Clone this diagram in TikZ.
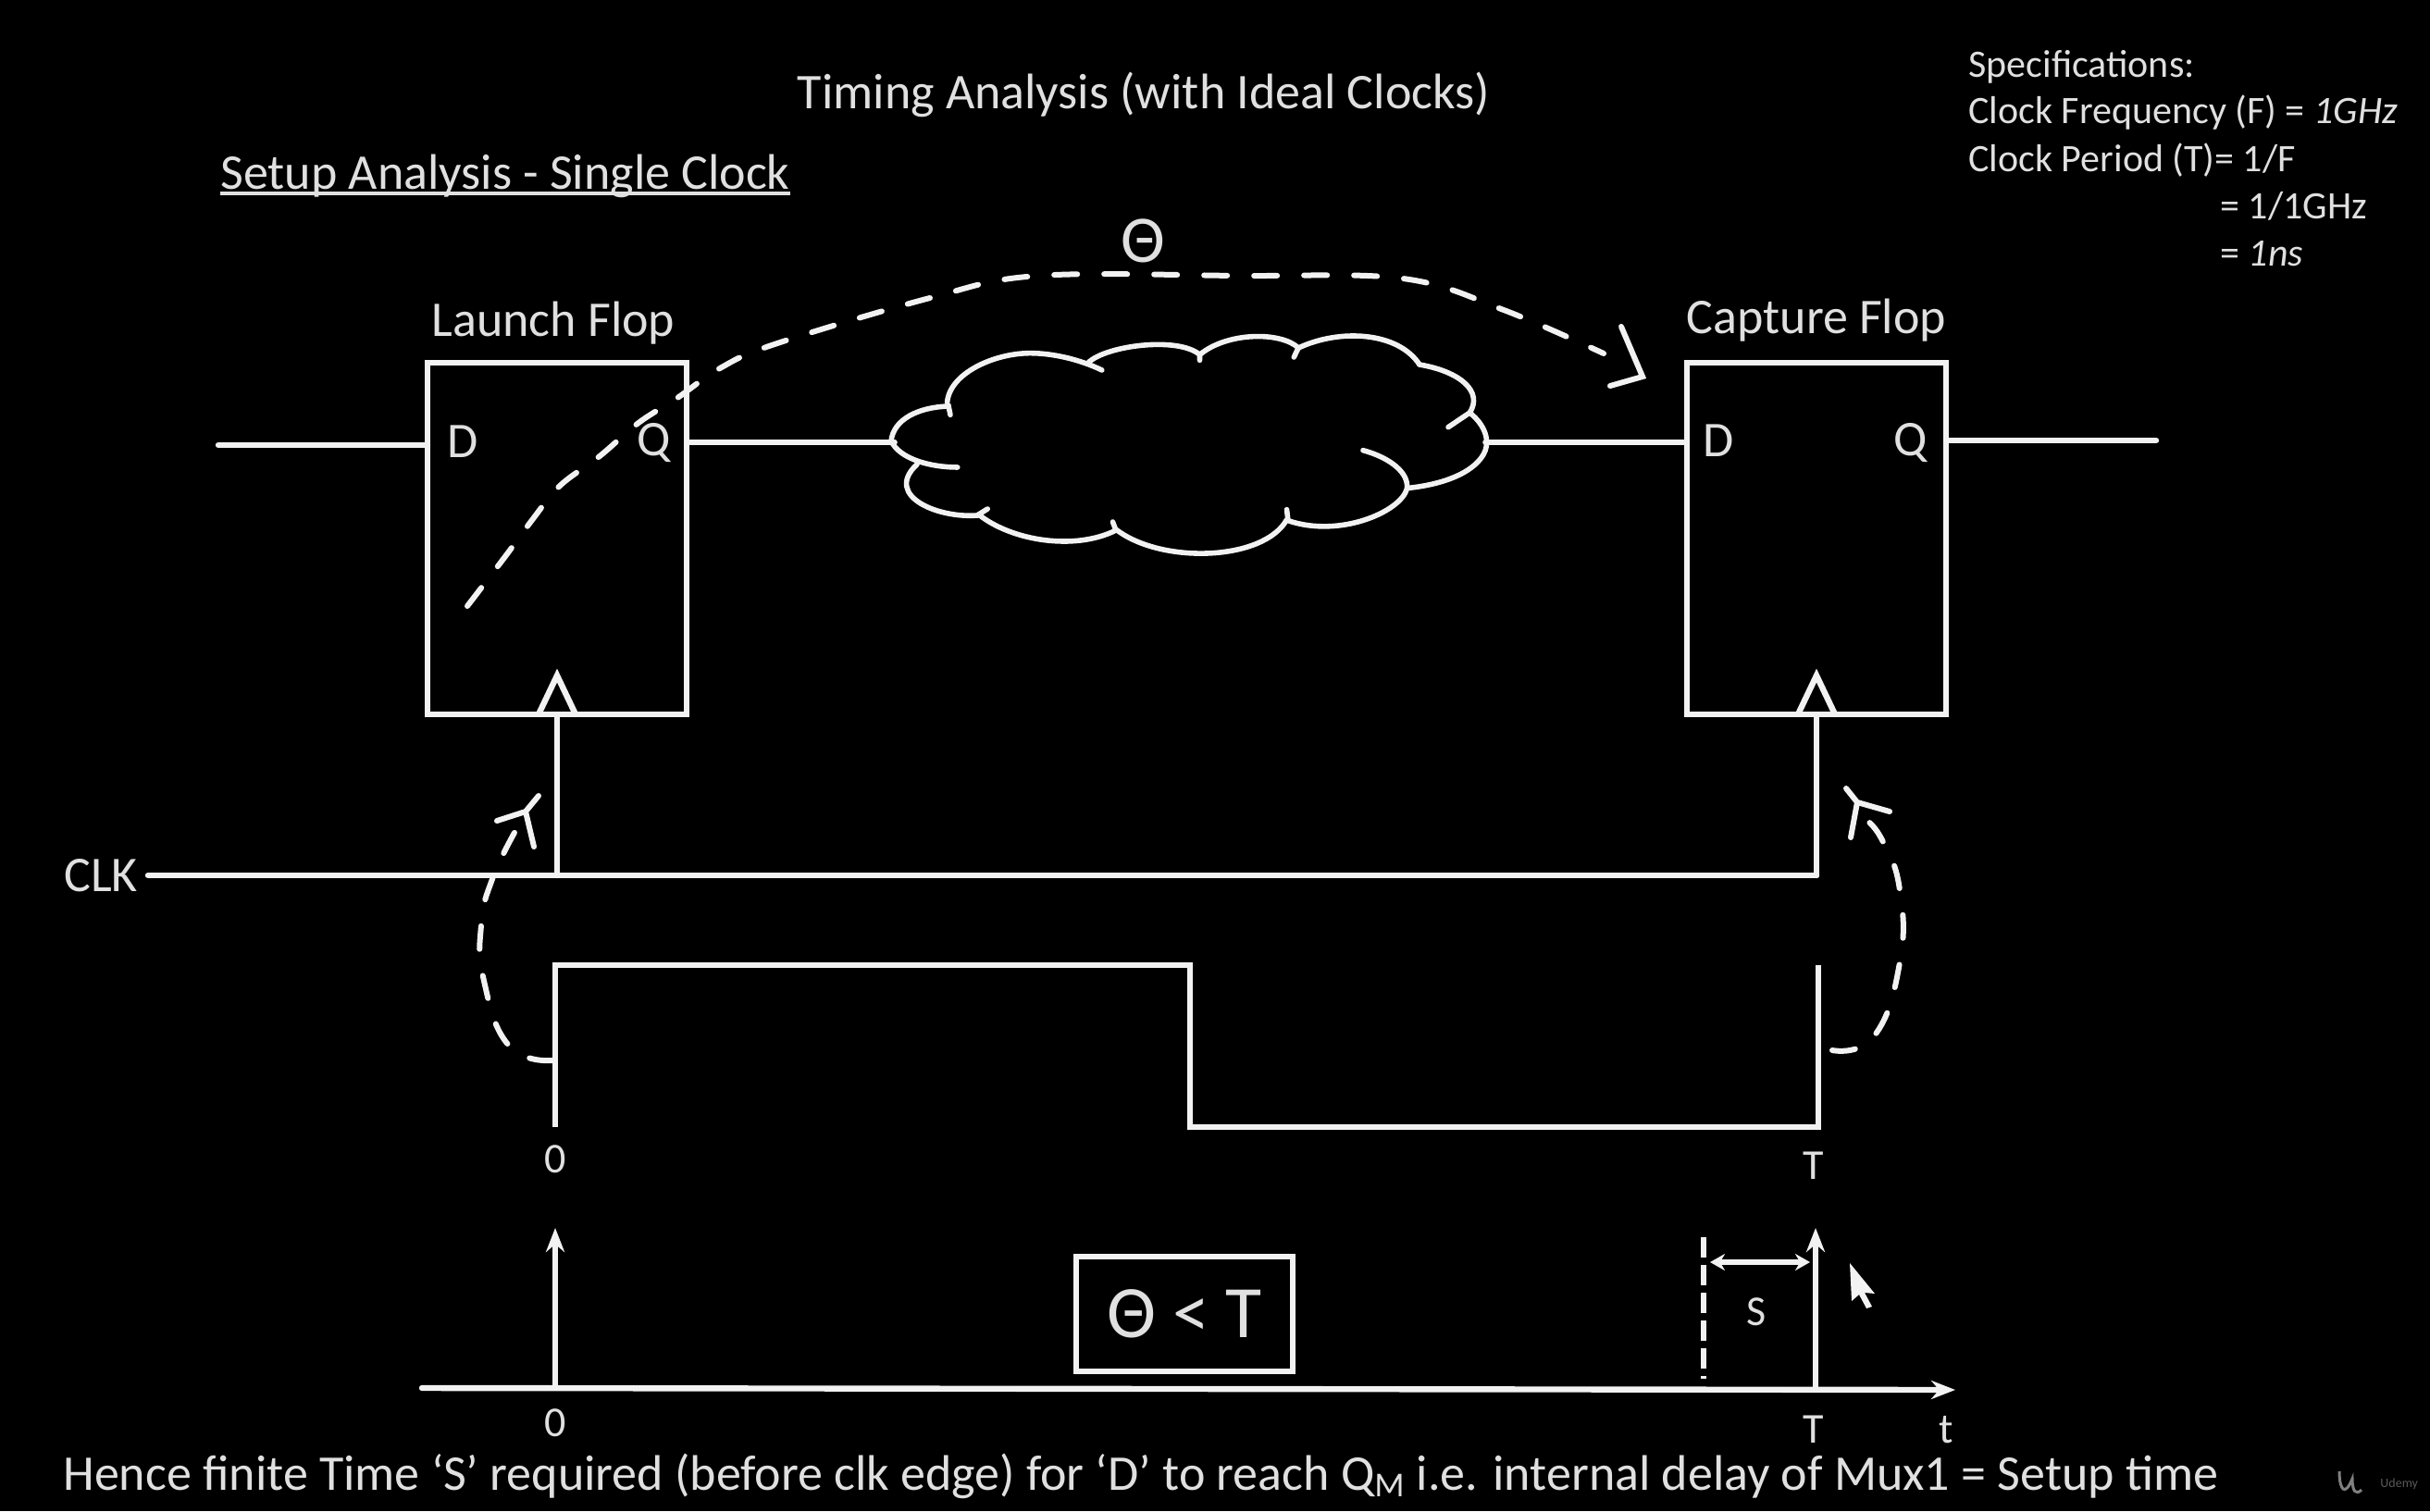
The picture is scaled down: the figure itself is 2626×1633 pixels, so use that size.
\documentclass[tikz,border=0pt]{standalone}
\usepackage{fontspec}
\setmainfont{Carlito}
\usetikzlibrary{arrows.meta}
\definecolor{wire}{gray}{0.95}
\definecolor{txt}{gray}{0.88}
\tikzset{
 x=0.5pt,y=-0.5pt,
 wireline/.style={draw=wire,line width=3.2pt,line cap=round,line join=miter},
 thinwire/.style={draw=wire,line width=2.8pt,line cap=round},
 dashline/.style={draw=wire,line width=3pt,dash pattern=on 12.5pt off 14.5pt,line cap=round},
 barbstroke/.style={draw=wire,line width=3pt,line cap=round},
 lbl/.style={text=txt,inner sep=0pt,font=\fontsize{27}{32}\selectfont},
 smalllbl/.style={text=txt,inner sep=0pt,font=\fontsize{23}{28}\selectfont},
 bigt/.style={text=txt,inner sep=0pt,font=\fontsize{27}{32}\selectfont},
 spec/.style={text=txt,inner sep=0pt,anchor=west,font=\fontsize{21}{25}\selectfont},
 flop/.style={draw=wire,line width=3.4pt,minimum width=140pt,minimum height=190pt,inner sep=0pt},
 solidtip/.style={-{Stealth[length=13pt,width=10pt]}},
 cloudline/.style={draw=wire,line width=2.8pt,line cap=round},
}
\begin{document}
\begin{tikzpicture}
\useasboundingbox[fill=black] (0,0) rectangle (2626,1633);
% flops
\node[flop] (launch) at (602,582) {};
\node[flop] (capture) at (1963,582) {};
\node[lbl] (launchlbl) at (598,349) {Launch Flop};
\node[lbl] (capturelbl) at (1963,346) {Capture Flop};
\node[lbl] (ld) at (500,477) {D};
\node[lbl] (lq) at (707,479) {Q};
\node[lbl] (cd) at (1857,476) {D};
\node[lbl] (cq) at (2065,479) {Q};
% clock triangles
\coordinate (ltipa) at (602,730);
\coordinate (ctipa) at (1963,730);
\draw[wireline] (582,772) -- (ltipa) -- (622,772);
\draw[wireline] (1943,772) -- (ctipa) -- (1983,772);
% wires
\coordinate (din) at (236,481);
\coordinate (qoutend) at (2330,476);
\coordinate (cloudL) at (967,478);
\coordinate (cloudR) at (1605,478);
\draw[wireline] (din) -- (din -| launch.west);
\draw[thinwire] (launch.east |- cloudL) -- (cloudL);
\draw[thinwire] (cloudR) -- (capture.west |- cloudR);
\draw[wireline] (capture.east |- qoutend) -- (qoutend);
% cloud
\begin{scope}[shift={(900,340)},xscale=0.4847,yscale=0.3333]
\draw[cloudline] (130,410) .. controls (135,340) and (190,300) .. (258,297) -- (262,325);
\draw[cloudline] (255,285) .. controls (260,190) and (360,125) .. (440,125) .. controls (490,125) and (550,145) .. (600,180);
\draw[cloudline] (570,155) .. controls (610,100) and (770,70) .. (818,130) -- (818,148);
\draw[cloudline] (818,130) .. controls (880,55) and (1000,55) .. (1038,108) -- (1028,138);
\draw[cloudline] (1038,108) .. controls (1130,45) and (1260,55) .. (1308,162);
\draw[cloudline] (1308,162) .. controls (1400,185) and (1450,250) .. (1420,318) -- (1372,365);
\draw[cloudline] (1420,318) .. controls (1460,365) and (1465,420) .. (1450,455) .. controls (1425,515) and (1360,550) .. (1285,562);
\draw[cloudline] (1182,440) .. controls (1245,465) and (1285,515) .. (1280,565) .. controls (1265,640) and (1130,725) .. (1015,668) -- (1012,632);
\draw[cloudline] (1012,665) .. controls (960,800) and (730,810) .. (630,695) -- (624,672);
\draw[cloudline] (630,700) .. controls (540,765) and (400,735) .. (325,648) -- (345,630);
\draw[cloudline] (330,650) .. controls (240,665) and (110,590) .. (188,485);
\draw[cloudline] (278,495) .. controls (220,495) and (150,470) .. (130,410);
\end{scope}
% clk
\node[lbl] (clklbl) at (109,946) {CLK};
\coordinate (clkstart) at (160,946);
\draw[wireline] (clkstart) -- (1963,946);
\draw[wireline] (602,946) -- (launch.south);
\draw[wireline] (1963,946) -- (capture.south);
% waveform
\coordinate (w0) at (600,1218);
\coordinate (w1) at (1965,1043);
\draw[wireline,line cap=butt] (w0) -- (600,1043) -- (1286,1043) -- (1286,1218) -- (1965,1218) -- (w1);
\node[smalllbl] (zero1) at (600,1253) {0};
\node[smalllbl] (t1) at (1960,1260) {T};
% dashed clock arcs
\coordinate (la) at (597,1146);
\coordinate (lb) at (557,898);
\coordinate (lj) at (568,877);
\coordinate (ra) at (1980,1135);
\coordinate (rb) at (2018,887);
\coordinate (rj) at (2007,867);
\draw[dashline] plot[smooth,tension=0.8] coordinates {(la) (550,1130) (523,1060) (520,1000) (532,950) (lb)};
\draw[barbstroke] (582,860) -- (lj) -- (537,887) (lj) -- (577,915);
\draw[dashline] plot[smooth,tension=0.8] coordinates {(ra) (2025,1120) (2053,1040) (2053,962) (2035,910) (rb)};
\draw[barbstroke] (1995,852) -- (rj) -- (2042,877) (rj) -- (2000,905);
% theta arc
\coordinate (tha) at (505,655);
\coordinate (thb) at (1733,382);
\coordinate (thj) at (1775,407);
\draw[dashline] plot[smooth,tension=0.6] coordinates {(tha) (547,600) (575,562) (605,525) (648,493) (690,457) (732,430) (778,398) (837,372) (1005,322) (1122,298) (1340,298) (1516,301) (1625,335) (thb)};
\draw[barbstroke] (1752,353) -- (thj) -- (1740,417);
\node[text=txt,inner sep=0pt,font=\fontsize{36}{40}\selectfont] (thlbl) at (1235,260) {Θ};
% titles
\node[bigt] (title) at (1236,102) {Timing Analysis (with Ideal Clocks)};
\node[bigt,anchor=west] (setup) at (238,190) {Setup Analysis - Single Clock};
\coordinate (ulin) at (238,209);
\draw[draw=txt,line width=1.6pt] (ulin) -- (ulin -| setup.east);
% specs
\node[spec] (s1) at (2127,72) {Specifications:};
\node[spec] (s2) at (2127,122) {Clock Frequency (F) = \textit{1GHz}};
\node[spec] (s3) at (2127,173) {Clock Period (T)= 1/F};
\node[spec] (s4) at (2399,223) {= 1/1GHz};
\node[spec] (s5) at (2399,274) {= \textit{1ns}};
% timing axis
\coordinate (axa) at (456,1500);
\coordinate (axb) at (2113,1502);
\coordinate (ar0) at (600,1327);
\coordinate (arT) at (1962,1327);
\draw[wireline,solidtip] (axa) -- (axb);
\draw[thinwire,solidtip] (ar0 |- axa) -- (ar0);
\draw[thinwire,solidtip] (arT |- axa) -- (arT);
\coordinate (da) at (1841,1337);
\coordinate (db) at (1841,1490);
\draw[draw=wire,line width=3pt,dash pattern=on 11pt off 4pt] (da) -- (db);
\coordinate (sa) at (1848,1364);
\coordinate (sb) at (1956,1364);
\draw[draw=wire,line width=2.6pt,{Stealth[length=8pt,width=9pt]}-{Stealth[length=8pt,width=9pt]}] (sa) -- (sb);
\node[smalllbl] (slbl) at (1898,1418) {S};
\node[draw=wire,line width=3pt,minimum width=117pt,minimum height=62pt,inner sep=0pt,text=txt,font=\fontsize{40}{46}\selectfont] (cond) at (1280,1420) {Θ < T};
\node[smalllbl] (zero2) at (600,1538) {0};
\node[smalllbl] (t2) at (1960,1545) {T};
\node[smalllbl] (t3) at (2103,1545) {t};
\node[bigt,anchor=west] (bottom) at (68,1595) {Hence finite Time ‘S’ required (before clk edge) for ‘D’ to reach Q\textsubscript{M} i.e. internal delay of Mux1 = Setup time};
% cursor
\fill[wire] (1999,1365) -- (2026,1398) -- (2015,1397) -- (2023,1412) -- (2017,1414) -- (2009,1399) -- (2001,1406) -- cycle;
% watermark
\draw[gray,line width=1.5pt] (2528,1590) .. controls (2528,1610) and (2534,1618) .. (2542,1598) .. controls (2542,1612) and (2546,1616) .. (2552,1610);
\node[text=gray!70!black,inner sep=0pt,anchor=west,font=\fontsize{7}{8}\selectfont] (ud) at (2572,1604) {Udemy};
\end{tikzpicture}
\end{document}
